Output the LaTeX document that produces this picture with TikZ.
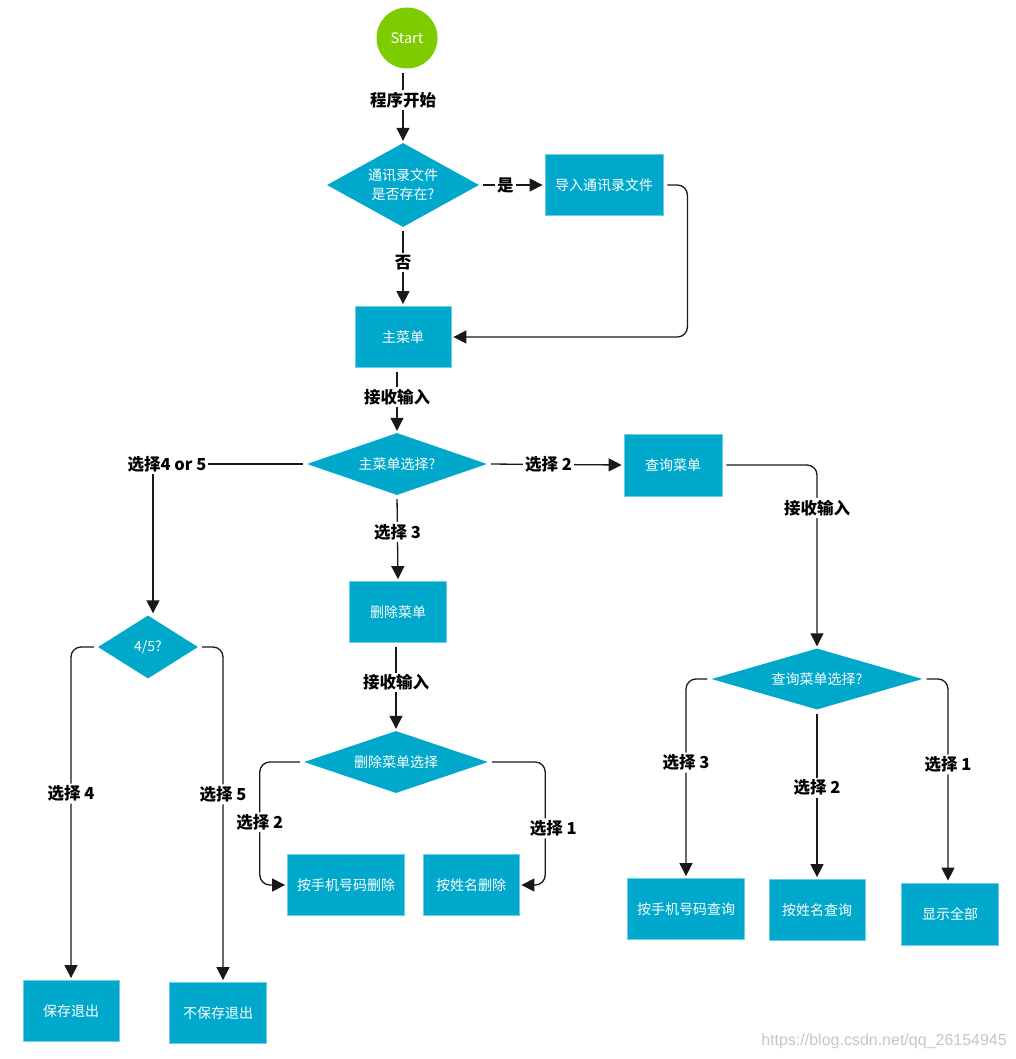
\documentclass[tikz,border=0pt]{standalone}
\usepackage{fontspec}
\setmainfont{Noto Sans CJK SC}
\newfontfamily\wmfont{Liberation Sans}
\usetikzlibrary{shapes.geometric,arrows.meta}
\definecolor{boxblue}{RGB}{0,169,204}
\definecolor{boxedge}{RGB}{110,205,228}
\definecolor{startgreen}{RGB}{125,204,0}
\tikzset{
  box/.style={rectangle, fill=boxblue, draw=boxedge, line width=0.8pt, text=white,
    font=\fontsize{14}{16}\selectfont, inner sep=0pt},
  dia/.style={diamond, fill=boxblue, inner sep=0pt},
  diatext/.style={text=white, font=\fontsize{14}{19}\selectfont, align=center, inner sep=0pt},
  lab/.style={fill=white, font=\bfseries\fontsize{16.5}{18}\selectfont, inner sep=2pt},
  conn/.style={line width=1.3pt, draw=black!90},
  arr/.style={conn, -{Triangle[length=13pt,width=13pt]}, shorten >=2pt, shorten <=4pt},
}
\begin{document}
\begin{tikzpicture}[x=1pt,y=-1pt]
\useasboundingbox (0,0) rectangle (1015,1059);
\fill[white] (0,0) rectangle (1015,1059);

% nodes
\node[circle, fill=startgreen, minimum size=61pt, inner sep=0pt, text=white, font=\fontsize{14.5}{16}\selectfont] (start) at (407,38) {Start};

\node[dia, minimum width=152pt, minimum height=84pt] (d1) at (403,185) {};
\node[diatext] (d1t) at (d1) {通讯录文件\\是否存在?};
\node[box, minimum width=118pt, minimum height=61pt] (imp) at (604,185) {导入通讯录文件};
\node[box, minimum width=96pt, minimum height=61pt] (main) at (403,337) {主菜单};

\node[dia, minimum width=180pt, minimum height=62pt] (d2) at (397,464) {};
\node[diatext] (d2t) at (d2) {主菜单选择?};
\node[box, minimum width=98pt, minimum height=62pt] (qmenu) at (673,465) {查询菜单};
\node[box, minimum width=97pt, minimum height=61pt] (delm) at (398,612) {删除菜单};

\node[dia, minimum width=184pt, minimum height=62pt] (d3) at (396,762) {};
\node[diatext] (d3t) at (d3) {删除菜单选择};
\node[box, minimum width=117pt, minimum height=61pt] (db1) at (346,885) {按手机号码删除};
\node[box, minimum width=96pt, minimum height=61pt] (db2) at (471,885) {按姓名删除};

\node[dia, minimum width=211pt, minimum height=61pt] (d4) at (817,679) {};
\node[diatext] (d4t) at (d4) {查询菜单选择?};
\node[box, minimum width=117pt, minimum height=61pt] (qb1) at (686,909) {按手机号码查询};
\node[box, minimum width=96pt, minimum height=61pt] (qb2) at (817,910) {按姓名查询};
\node[box, minimum width=97pt, minimum height=62pt] (qb3) at (950,914) {显示全部};

\node[dia, minimum width=100pt, minimum height=63pt] (d45) at (148,647) {};
\node[diatext] (d45t) at (d45) {4/5?};
\node[box, minimum width=96pt, minimum height=61pt] (sb1) at (71,1011) {保存退出};
\node[box, minimum width=97pt, minimum height=61pt] (sb2) at (218,1013) {不保存退出};

\node[anchor=east, text=black!22, font=\wmfont\fontsize{16}{18}\selectfont, inner sep=0pt] (wm) at (1007,1041) {https://blog.csdn.net/qq\_26154945};

% connectors
\draw[arr] (start.south -| d1.north) -- node[lab,pos=0.42]{程序开始} (d1.north);
\draw[arr] (d1.east) -- node[lab,pos=0.4]{是} (imp.west);
\draw[arr] (d1.south) -- node[lab,pos=0.45]{否} (main.north);
\draw[arr, rounded corners=10pt] (imp.east) -- ++(24,0) |- (main.east);
\draw[arr] (main.south -| d2.north) -- node[lab,pos=0.45]{接收输入} (d2.north);

\draw[arr] (d2.west) -| node[lab,pos=0.5,xshift=14pt]{选择4 or 5} ([xshift=5pt]d45.north);
\draw[arr] (d2.east) -- node[lab,pos=0.45]{选择 2} (qmenu.west);
\draw[arr] (d2.south) -- node[lab,pos=0.43]{选择 3} (delm.north);
\draw[arr] (delm.south -| d3.north) -- node[lab,pos=0.45]{接收输入} (d3.north);

\draw[arr, rounded corners=10pt] (d3.west) -- ++(-44,0) |- node[lab,pos=0.245]{选择 2} (db1.west);
\draw[arr, rounded corners=10pt] (d3.east) -- ++(57,0) |- node[lab,pos=0.27,xshift=8pt]{选择 1} (db2.east);

\draw[arr, rounded corners=10pt] (qmenu.east) -| node[lab,pos=0.617]{接收输入} (d4.north);
\draw[arr, rounded corners=10pt] (d4.west) -| node[lab,pos=0.71]{选择 3} (qb1.north);
\draw[arr] (d4.south) -- node[lab,pos=0.46]{选择 2} (qb2.north);
\draw[arr, rounded corners=10pt] (d4.east) -| node[lab,pos=0.71]{选择 1} ([xshift=-2pt]qb3.north);

\draw[arr, rounded corners=10pt] (d45.west) -| node[lab,pos=0.72]{选择 4} (sb1.north);
\draw[arr, rounded corners=10pt] (d45.east) -| node[lab,pos=0.72]{选择 5} ([xshift=5pt]sb2.north);
\end{tikzpicture}
\end{document}
